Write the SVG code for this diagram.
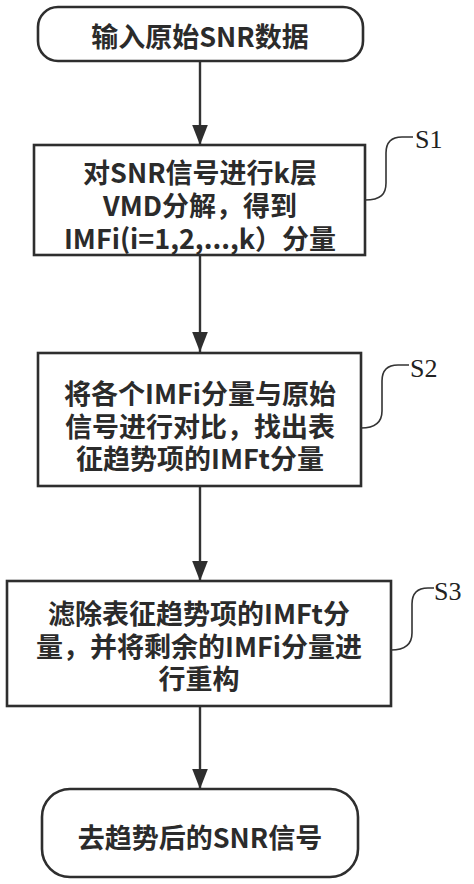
<svg xmlns="http://www.w3.org/2000/svg" width="474" height="884" viewBox="0 0 474 884">
<defs>
<style>
.box{fill:#fff;stroke:#2e2e2e;stroke-width:2.6}
.t{font-family:"Noto Sans CJK SC","Microsoft YaHei",sans-serif;font-weight:bold;font-size:27px;fill:#2b2b2b;text-anchor:middle;dominant-baseline:central}
.lbl{font-family:"Liberation Serif","Times New Roman",serif;font-size:26px;fill:#222}
.conn{stroke:#333;stroke-width:2.4;fill:none}
.lead{stroke:#333;stroke-width:1.6;fill:none}
</style>
<marker id="ah" markerUnits="userSpaceOnUse" markerWidth="20" markerHeight="24" refX="23" refY="9" orient="auto" viewBox="0 0 23 18">
<path d="M0,0 L23,9 L0,18 Z" fill="#2e2e2e"/>
</marker>
</defs>
<rect width="474" height="884" fill="#fff"/>
<g id="connectors">
<line class="conn" x1="200" y1="61" x2="200" y2="145" marker-end="url(#ah)"/>
<line class="conn" x1="200" y1="256" x2="200" y2="352" marker-end="url(#ah)"/>
<line class="conn" x1="200" y1="487" x2="200" y2="581" marker-end="url(#ah)"/>
<line class="conn" x1="200" y1="706" x2="200" y2="789" marker-end="url(#ah)"/>
</g>
<g id="start">
<rect class="box" x="38" y="7" width="325" height="54" rx="20"/>
<text class="t" x="200" y="35">输入原始SNR数据</text>
</g>
<g id="s1">
<rect class="box" x="34" y="145" width="331" height="110"/>
<text class="t" x="200" y="171">对SNR信号进行k层</text>
<text class="t" x="200" y="204">VMD分解，得到</text>
<text class="t" x="200" y="237">IMFi(i=1,2,...,k）分量</text>
<path class="lead" d="M365,200 C381,200 386,194 386,183 L386,153 C386,143 391,137 402,137 L413,137"/>
<text class="lbl" x="415" y="148">S1</text>
</g>
<g id="s2">
<rect class="box" x="38" y="353" width="323" height="133"/>
<text class="t" x="200" y="392">将各个IMFi分量与原始</text>
<text class="t" x="200" y="425">信号进行对比，找出表</text>
<text class="t" x="200" y="457">征趋势项的IMFt分量</text>
<path class="lead" d="M361,428 C376,428 382,422 382,411 L382,381 C382,371 387,365 398,365 L409,365"/>
<text class="lbl" x="410" y="377">S2</text>
</g>
<g id="s3">
<rect class="box" x="7" y="581" width="384" height="125"/>
<text class="t" x="199" y="612">滤除表征趋势项的IMFt分</text>
<text class="t" x="199" y="645">量，并将剩余的IMFi分量进</text>
<text class="t" x="199" y="677">行重构</text>
<path class="lead" d="M391,650 C406,650 412,644 412,633 L412,604 C412,594 417,588 428,588 L434,588"/>
<text class="lbl" x="434" y="600">S3</text>
</g>
<g id="end">
<rect class="box" x="42" y="789" width="316" height="88" rx="28"/>
<text class="t" x="200" y="836">去趋势后的SNR信号</text>
</g>
</svg>
